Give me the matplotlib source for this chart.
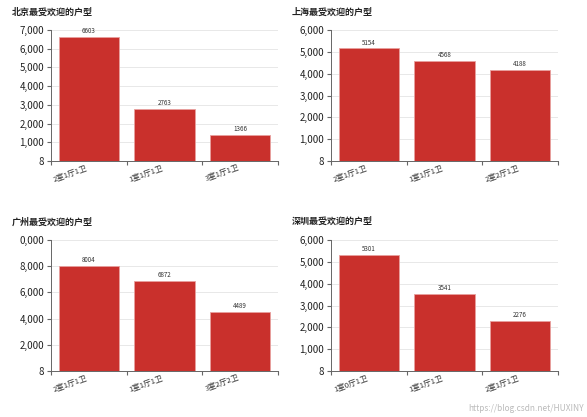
import matplotlib
matplotlib.use("Agg")
import matplotlib.pyplot as plt

plt.rcParams['font.family'] = ['Noto Sans CJK SC', 'DejaVu Sans']

titles = ["北京最受欢迎的户型", "上海最受欢迎的户型", "广州最受欢迎的户型", "深圳最受欢迎的户型"]
cats = [["2室1厅1卫", "1室1厅1卫", "3室1厅1卫"],
        ["2室1厅1卫", "1室1厅1卫", "2室2厅1卫"],
        ["2室1厅1卫", "1室1厅1卫", "3室2厅2卫"],
        ["1室0厅1卫", "1室1厅1卫", "2室1厅1卫"]]
vals = [[6603, 2763, 1366], [5154, 4568, 4188], [8004, 6872, 4489], [5301, 3541, 2276]]
ymaxs = [7000, 6000, 10000, 6000]
steps = [1000, 1000, 2000, 1000]

W, H = 587, 417
fig = plt.figure(figsize=(W/100, H/100), dpi=100)
boxes = [(51, 30), (331, 30), (51, 240), (331, 240)]
aw, ah = 227, 131
title_y = [8, 8, 217, 217]
title_x = [12, 292, 12, 292]
for i in range(4):
    x0, y0 = boxes[i]
    ax = fig.add_axes([x0/W, 1-(y0+ah)/H, aw/W, ah/H])
    b = ax.bar(range(3), vals[i], width=0.8, color='#c9302c', edgecolor='#e8a09e', linewidth=0.6)
    for j, v in enumerate(vals[i]):
        ax.text(j, v + ymaxs[i]*0.015, str(v), ha='center', va='bottom', fontsize=4.5, color='#333')
    ax.set_xlim(-0.5, 2.5)
    ax.set_ylim(0, ymaxs[i])
    ticks = list(range(0, ymaxs[i]+1, steps[i]))
    ax.set_yticks(ticks)
    labs = ["8"] + [f"{t:,}" for t in ticks[1:]]
    if ymaxs[i] == 10000:
        labs[-1] = "0,000"
    ax.set_yticklabels(labs, fontsize=7, color='#222')
    ax.set_xticks([-0.5, 0.5, 1.5, 2.5], minor=False)
    ax.set_xticklabels([])
    ax.set_xticks(range(3), minor=True)
    ax.set_xticklabels(cats[i], minor=True, rotation=20, fontsize=5.5, ha='right', color='#333')
    ax.tick_params(axis='x', which='minor', length=0, pad=2)
    ax.tick_params(axis='x', which='major', length=3, color='#666')
    ax.tick_params(axis='y', length=3, color='#666', pad=2)
    ax.grid(axis='y', color='#e4e4e4', linewidth=0.6)
    ax.set_axisbelow(True)
    for s in ['top', 'right']:
        ax.spines[s].set_visible(False)
    for s in ['left', 'bottom']:
        ax.spines[s].set_color('#666')
        ax.spines[s].set_linewidth(0.7)
    fig.text(title_x[i]/W, 1-title_y[i]/H, titles[i], fontsize=6.5, fontweight='bold', va='top', ha='left', color='#222')

fig.text(0.995, 0.01, "https://blog.csdn.net/HUXINY", fontsize=6, color='#bbbbbb', ha='right', va='bottom')
fig.savefig("out.png", dpi=100)
